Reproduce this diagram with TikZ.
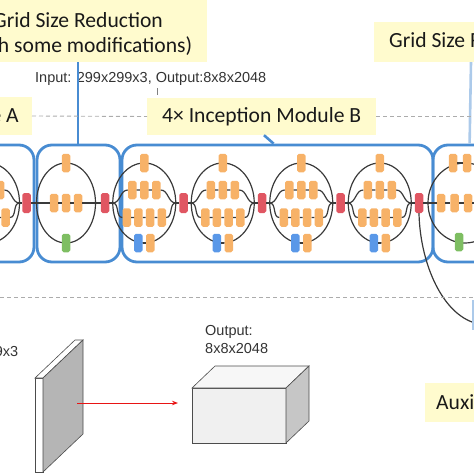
\documentclass[tikz,border=0pt]{standalone}
\usepackage{fontspec}
\setmainfont{Carlito}
\newfontfamily\netfont{Liberation Sans}
\usetikzlibrary{arrows.meta}
\definecolor{boxblue}{RGB}{72,140,210}
\definecolor{paleblue}{RGB}{172,202,234}
\definecolor{noteyellow}{RGB}{255,251,206}
\definecolor{convorange}{RGB}{247,178,104}
\definecolor{poolred}{RGB}{224,86,98}
\definecolor{poolgreen}{RGB}{126,190,98}
\definecolor{avgblue}{RGB}{90,152,232}
\definecolor{wiregray}{RGB}{58,58,58}
\definecolor{arrowred}{RGB}{232,20,20}

\begin{document}
\begin{tikzpicture}[x=1pt,y=-1pt]

\tikzstyle{note}=[fill=noteyellow,inner sep=0pt,text=black!90,font=\fontsize{21.6}{25}\selectfont]
\tikzstyle{module}=[draw=boxblue,line width=2.8pt,rounded corners=15pt,inner sep=0pt,minimum height=117pt]
\tikzstyle{block}=[rectangle,rounded corners=1.8pt,minimum width=8.5pt,minimum height=18.5pt,inner sep=0pt]
\tikzstyle{conv}=[block,fill=convorange]
\tikzstyle{pool}=[block,fill=poolred,minimum height=20pt]
\tikzstyle{mpool}=[block,fill=poolgreen]
\tikzstyle{apool}=[block,fill=avgblue]
\tikzstyle{wire}=[draw=wiregray,line width=1.2pt]
\tikzstyle{link}=[draw=boxblue,line width=2.6pt]
\tikzstyle{dashline}=[draw=gray!65,line width=0.9pt,dash pattern=on 4pt off 3pt]
\tikzstyle{tensor}=[inner sep=0pt,text=black!80,font=\netfont\fontsize{14.5}{18}\selectfont]

\useasboundingbox (0,0) rectangle (474,474);

% module frames
\node[module,minimum width=94pt] (boxA) at (-13,203.5) {};
\node[module,minimum width=83pt] (boxG1) at (78.5,203.5) {};
\node[module,minimum width=311pt] (boxB) at (277.5,203.5) {};
\node[module,minimum width=90pt] (boxG2) at (478,203.5) {};

% pooling between modules
\foreach \n/\x in {pA/26.5,p0/105,p1/183.5,p2/262,p3/340.5,p4/419}
  \node[pool] (\n) at (\x,203) {};

% inception modules
\foreach \m/\cx in {A/-12,B1/144.25,B2/222.75,B3/301.25,B4/379.75}
{
  \draw[wire] (\cx,203) ellipse [x radius=31.5,y radius=40];
  \coordinate (\m-L) at (\cx-31.5,203);
  \coordinate (\m-R) at (\cx+31.5,203);
  \node[conv] (\m-t) at (\cx,163) {};
  \foreach \j/\dx in {1/-12,2/0,3/12}
    \node[conv] (\m-a\j) at (\cx+\dx,190) {};
  \foreach \j/\dx in {1/-17.5,2/-5.8,3/5.8,4/17.5}
    \node[conv] (\m-b\j) at (\cx+\dx,217.5) {};
  \node[apool] (\m-p) at (\cx-6,243) {};
  \node[conv] (\m-c) at (\cx+6,243) {};
  \draw[wire] (\m-L) to[out=0,in=180] (\m-a1) -- (\m-a2) -- (\m-a3) to[out=0,in=180] (\m-R);
  \draw[wire] (\m-L) to[out=0,in=180] (\m-b1) -- (\m-b2) -- (\m-b3) -- (\m-b4) to[out=0,in=180] (\m-R);
  \draw[wire] (\m-p) -- (\m-c);
}

% grid size reduction, first
\draw[wire] (66,203) ellipse [x radius=29.5,y radius=40];
\coordinate (G1-L) at (36.5,203);
\coordinate (G1-R) at (95.5,203);
\node[conv] (G1-t) at (66,163) {};
\foreach \j/\x in {1/54,2/66,3/78}
  \node[conv] (G1-a\j) at (\x,203) {};
\node[mpool] (G1-g) at (66,243) {};
\draw[wire] (G1-L) -- (G1-a1) -- (G1-a2) -- (G1-a3) -- (G1-R);

% grid size reduction, second
\draw[wire] (465,203) ellipse [x radius=37,y radius=40];
\coordinate (G2-L) at (428,203);
\coordinate (G2-R) at (502,203);
\node[conv] (G2-t1) at (453,163) {};
\node[conv] (G2-t2) at (467,163) {};
\foreach \j/\x in {1/441,2/454.5,3/468}
  \node[conv] (G2-a\j) at (\x,203) {};
\node[mpool] (G2-g) at (459,242) {};
\draw[wire] (G2-L) -- (G2-a1) -- (G2-a2) -- (G2-a3) -- (G2-R);
\draw[wire] (G2-t1) -- (G2-t2);

\foreach \a/\p/\b in {A/pA/G1,G1/p0/B1,B1/p1/B2,B2/p2/B3,B3/p3/B4,B4/p4/G2}
  \draw[wire] (\a-R) -- (\p) -- (\b-L);

% auxiliary branch
\coordinate (auxin) at (472,322);
\draw[wire] (p4.south) .. controls +(1,47) and +(-32,-12) .. (auxin);
\draw[paleblue,line width=2.6pt] (473.5,300) -- (473.5,330);

% notes
\node[note,anchor=base,minimum width=258pt,text height=32pt,text depth=35pt] (g1note) at (78,27)
  {\begin{tabular}[t]{c}Grid Size Reduction\\(with some modifications)\end{tabular}};
\node[note,anchor=base east,inner xsep=13pt,text height=25pt,text depth=13pt] (anote) at (32,122) {4× Inception Module A};
\node[note,anchor=base west,minimum width=229pt,text height=24pt,text depth=13pt] (bnote) at (147,122) {4× Inception Module B};
\node[note,anchor=base west,inner xsep=15pt,text height=25pt,text depth=15pt] (g2note) at (374,47) {Grid Size Reduction};
\node[note,anchor=base west,inner xsep=11pt,text height=26pt,text depth=13pt] (auxnote) at (425,409) {Auxiliary Classifier};

\node[tensor,anchor=base west] (iotext) at (35,82) {Input: 299x299x3, Output:8x8x2048};
\draw[gray,line width=0.6pt] (157,88) -- (157,95);

\draw[link] (g1note.south) -- (g1note.south |- boxG1.north);
\draw[link] ([xshift=117pt]bnote.south west) -- ([xshift=153pt]boxB.north west);
\draw[link,paleblue] ([xshift=97pt]g2note.south west) -- ([xshift=38pt]boxG2.north west);

% dashed separators
\coordinate (dashR) at (474,117);
\draw[dashline] (anote.east) -- (bnote.west);
\draw[dashline] (bnote.east) -- (bnote.east -| dashR);
\draw[dashline] (0,297) -- (474,297);

% input image and output tensor
\node[tensor,anchor=base west] (intext) at (-53,338) {\begin{tabular}[t]{@{}l@{}}Input:\\299x299x3\end{tabular}};
\node[tensor,anchor=base west] (outtext) at (205,335) {\begin{tabular}[t]{@{}l@{}}Output:\\8x8x2048\end{tabular}};

\filldraw[draw=black!70,fill=white,line width=0.6pt] (35,378) rectangle (43,472);
\filldraw[draw=black!70,fill=white,line width=0.6pt] (35,378) -- (75,340) -- (83,340) -- (43,378) -- cycle;
\filldraw[draw=black!70,fill=gray!58,line width=0.6pt] (43,378) -- (83,340) -- (83,434) -- (43,472) -- cycle;

\filldraw[draw=black!70,fill=gray!12,line width=0.6pt] (192,388) rectangle (286,443);
\filldraw[draw=black!70,fill=gray!6,line width=0.6pt] (192,388) -- (215,366) -- (309,366) -- (286,388) -- cycle;
\filldraw[draw=black!70,fill=gray!45,line width=0.6pt] (286,388) -- (309,366) -- (309,421) -- (286,443) -- cycle;

\coordinate (slabpt) at (77,403);
\coordinate (cubept) at (178,403);
\draw[arrowred,line width=0.9pt,-{Stealth[length=6pt,width=4.5pt]}] (slabpt) -- (cubept);

\end{tikzpicture}
\end{document}
